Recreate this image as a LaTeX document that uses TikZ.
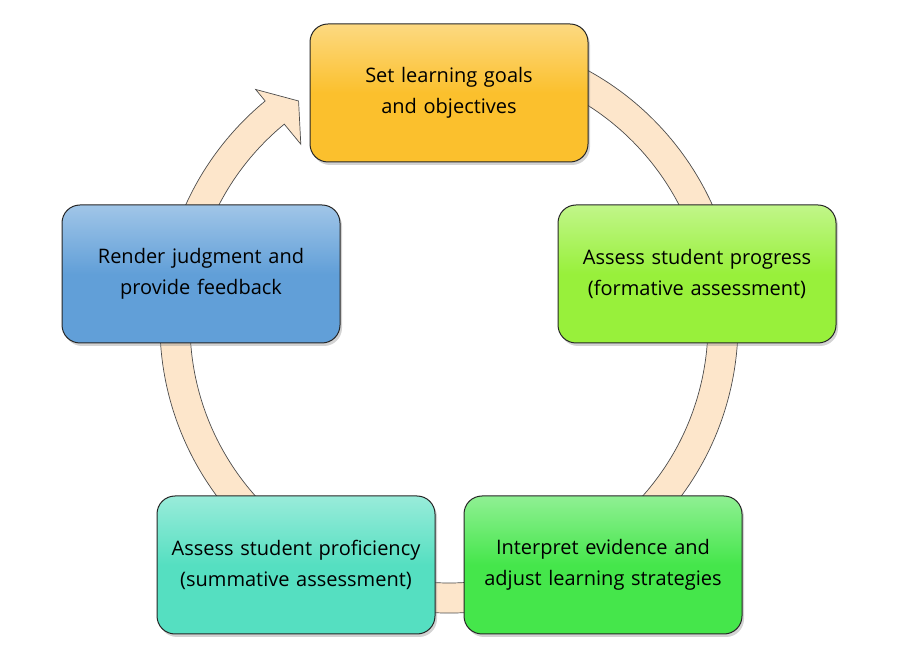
\documentclass[tikz,border=0pt]{standalone}
\usepackage{fontspec}
\setmainfont{Open Sans}
\usetikzlibrary{shadows}
\definecolor{ringc}{HTML}{FDE6CB}
\definecolor{cA}{HTML}{FBC02D}
\definecolor{cB}{HTML}{98F03B}
\definecolor{cC}{HTML}{45E64B}
\definecolor{cD}{HTML}{55DFC1}
\definecolor{cE}{HTML}{619FD8}
\tikzset{
  stagebox/.style={draw=black!85, line width=1pt, rounded corners=18pt,
    minimum width=278pt, minimum height=138pt, text width=250pt, align=center,
    font=\fontsize{20}{31}\selectfont,
    drop shadow={shadow xshift=2pt, shadow yshift=-3pt, opacity=0.35}},
}
\begin{document}
\begin{tikzpicture}[x=1pt,y=1pt]
\useasboundingbox (0,0) rectangle (900,667);
\begin{scope}[shift={(449,343)}]
\filldraw[fill=ringc, draw=black!70, line width=0.7pt]
  (80:289) arc[start angle=80, end angle=-230.5, radius=289]
  -- (-230.5:304) -- (124:269) -- (-230.5:233) -- (-230.5:259)
  arc[start angle=-230.5, end angle=80, radius=259] -- cycle;
\end{scope}
\node[stagebox, top color=cA!60!white, bottom color=cA, middle color=cA] (a) at (449,574) {Set learning goals and objectives};
\node[stagebox, top color=cB!60!white, bottom color=cB, middle color=cB] (b) at (697,393) {Assess student progress (formative assessment)};
\node[stagebox, top color=cC!60!white, bottom color=cC, middle color=cC] (c) at (603,102) {Interpret evidence and adjust learning strategies};
\node[stagebox, top color=cD!60!white, bottom color=cD, middle color=cD] (d) at (296,102) {Assess student proficiency (summative assessment)};
\node[stagebox, top color=cE!60!white, bottom color=cE, middle color=cE] (e) at (201,393) {Render judgment and provide feedback};
\end{tikzpicture}
\end{document}
